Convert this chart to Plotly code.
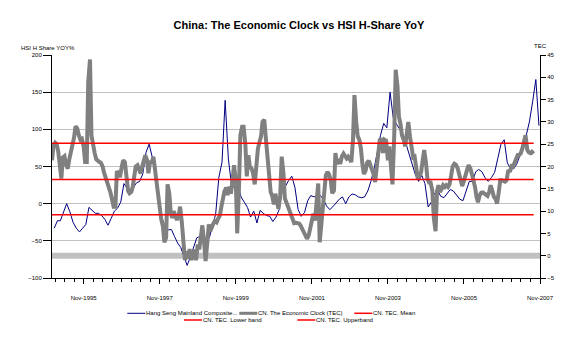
import pandas as pd
import plotly.graph_objects as go

# ---------------- data ----------------
# HSI H-Share (Hang Seng Mainland Composite) YoY %, monthly from Jan-1995
hsi_start = "1995-01-01"
hsi_yoy = [
    -33, -23, -23, -12, 0, -11, -25, -33, -38, -33,
    -28, -5, -9, -13, -13, -16, -21, -29, -20, -10,
    -6, 2, 27, 21, 19, 22, 28, 30, 40, 69,
    80, 62, 35, 0, -19, -31, -35, -35, -44, -53,
    -59, -72, -83, -72, -58, -46, -44, -51, -52, -45,
    -30, -14, 35, 56, 139, 60, 24, 21, 26, 9,
    2, -5, -18, -10, -26, -9, -13, -16, -17, -24,
    -18, -8, 20, 24, 31, 37, 22, -8, -17, -12,
    4, 11, 9, 12, 11, 5, -3, -8, -4, 1.5,
    6, 9, 0, 9, 13, 12, 9, 8, 9, 17,
    30, 47, 69, 92, 108, 102, 150, 116, 107, 100,
    94, 81, 66, 53, 39, 30, 38, 27, -4.5, 2,
    14, 18, 10, 8, 14, 19, 17, 12, 6, 4,
    18, 30, 30, 43, 46, 43, 35, 30, 35, 42,
    61, 80, 86, 55, 47, 47, 53, 65, 76, 92,
    110, 137, 167, 105,
]

# The Economic Clock (TEC), semi-monthly from Jan-1995
tec_start = "1995-01-01"
tec = [
    21.4, 24.5, 25.3, 25, 23.5, 19.5, 17.3, 22, 22.3, 20.5,
    19.5, 21.5, 23.3, 24.2, 26.5, 29, 28.5, 27, 26, 26.2,
    24.5, 21, 21, 39, 44, 27, 24.4, 23, 21.6, 21.2,
    21, 20.8, 20, 18.6, 17.5, 16.6, 15.5, 14.2, 12.5, 11,
    11, 19, 18.3, 17.6, 19.9, 21.4, 21, 17.5, 14.5, 14,
    14.3, 15.5, 17.6, 20, 20.3, 19.1, 18.4, 19.9, 21.2, 22.5,
    21.5, 18.5, 21.3, 20.7, 22.2, 19.5, 17.5, 14.6, 11, 8.2,
    6.6, 3, 4, 16, 13.9, 9.5, 8.5, 10, 8.9, 8,
    8.8, 11, 7.5, 2.5, -1, 1, -0.7, 1.5, -1, 0.5,
    1.3, -1, 2.5, 1.4, 3.8, 6.8, 3, -1.2, 3, 7,
    5.5, 6.6, 7.3, 7.8, 7.5, 8.3, 9, 10.9, 13, 14.4,
    15.3, 13.6, 15.5, 13.9, 17, 20.3, 17, 5, 14.6, 27,
    28.9, 28.9, 25, 17.8, 22.5, 20, 19.5, 18.5, 16, 20.6,
    24, 25.4, 26.8, 30, 30.5, 26.6, 22.5, 17, 14.3, 13.5,
    11.5, 13.9, 11.6, 10.5, 13.5, 22.2, 18.5, 12.8, 12, 11,
    10.2, 9.2, 8, 7.3, 7.4, 7.3, 7.2, 6.8, 6.1, 5.4,
    4.6, 3.8, 4.5, 6, 7.8, 9.4, 7.9, 10.9, 16.2, 3,
    7.2, 10.5, 15.5, 18, 18.8, 18.2, 17, 14, 14.6, 23,
    20.5, 21.7, 20.6, 22.2, 22.9, 22.2, 21.8, 22.2, 21.4, 21,
    26, 36, 30, 26.8, 25.9, 24, 20.6, 18.3, 19.1, 20.8,
    21.3, 20.4, 19.3, 18.4, 16.5, 19.5, 24.3, 25.9, 26, 23,
    26, 25.8, 21.4, 24.5, 19.9, 16, 27, 41.7, 38, 31.2,
    29.5, 27, 26, 24.5, 27.4, 30, 26.6, 24.5, 22, 22.2,
    19.9, 17.2, 18, 18.7, 21.5, 23.7, 20.8, 17.2, 16.4, 16.4,
    14.6, 8.5, 5.5, 14.5, 15.8, 14.3, 15, 15.8, 15.4, 15.8,
    15.4, 16, 18, 20, 20.6, 20.4, 19.6, 18, 16.3, 15.6,
    16.8, 18.5, 19.3, 20.3, 19.6, 18.4, 17, 15.4, 13.2, 12,
    13.6, 14.1, 14.2, 13.9, 13.5, 13.4, 14.3, 15.8, 14.5, 13.2,
    12.7, 11.7, 14.3, 16.9, 16.9, 16.7, 16.6, 16.9, 19.2, 18.8,
    20.1, 20, 20.8, 21.8, 22.6, 22.6, 23, 24, 25.9, 27,
    23.8, 23.2, 23, 23.3, 22.9,
]

tec_mean = 17.1
tec_lower = 9.2
tec_upper = 25.2

series_names = [
    "Hang Seng Mainland Composite...",
    "CN. The Economic Clock (TEC)",
    "CN. TEC. Mean",
    "CN. TEC. Lower band",
    "CN. TEC. Upperband",
]

x_range = ["1995-01-01", "2007-11-01"]
hsi_axis_range = [-100, 200]
tec_axis_range = [-5, 45]

# ---------------- build ----------------
W, H = 575, 342
ML, MR, MT, MB = 52, 35, 55, 64
PW, PH = W - ML - MR, H - MT - MB


def px_x(px):
    return (px - ML) / PW


def px_y(py):
    return (H - MB - py) / PH


hsi_dates = pd.date_range(hsi_start, periods=len(hsi_yoy), freq="MS") + pd.Timedelta(days=21)
tec_dates = pd.date_range(tec_start, periods=len(tec), freq="SMS")
band_x = [tec_dates[0], tec_dates[-1]]

FONT = "Liberation Sans, Arial, sans-serif"
colors = ["#000080", "#808080", "#ff0000", "#ff0000", "#ff0000"]
widths = [1, 4, 1.5, 1.5, 1.5]

fig = go.Figure()
fig.add_trace(go.Scatter(x=hsi_dates, y=hsi_yoy, mode="lines", name=series_names[0],
                         line=dict(color=colors[0], width=widths[0]), yaxis="y"))
fig.add_trace(go.Scatter(x=tec_dates, y=tec, mode="lines", name=series_names[1],
                         line=dict(color=colors[1], width=widths[1]), yaxis="y2"))
fig.add_trace(go.Scatter(x=band_x, y=[tec_mean, tec_mean], mode="lines", name=series_names[2],
                         line=dict(color=colors[2], width=widths[2]), yaxis="y2"))
fig.add_trace(go.Scatter(x=band_x, y=[tec_lower, tec_lower], mode="lines", name=series_names[3],
                         line=dict(color=colors[3], width=widths[3]), yaxis="y2"))
fig.add_trace(go.Scatter(x=band_x, y=[tec_upper, tec_upper], mode="lines", name=series_names[4],
                         line=dict(color=colors[4], width=widths[4]), yaxis="y2"))

# thick zero band on TEC axis
fig.add_shape(type="line", xref="x domain", x0=0, x1=1, yref="y2", y0=0, y1=0,
              line=dict(color="#c0c0c0", width=6), layer="below")

fig.update_layout(
    width=W, height=H,
    margin=dict(l=ML, r=MR, t=MT, b=MB),
    paper_bgcolor="white", plot_bgcolor="white",
    font=dict(family=FONT, size=6, color="black"),
    showlegend=False,
    title=dict(text="<b>China: The Economic Clock vs HSI H-Share YoY</b>",
               font=dict(family=FONT, size=11, color="black"),
               x=px_x(299), xref="paper", xanchor="center",
               y=1 - 25 / H, yref="container", yanchor="middle"),
    xaxis=dict(type="date", range=x_range, tickformat="%b-%Y",
               tick0="1995-11-01", dtick="M24",
               ticks="outside", ticklen=5, tickcolor="black",
               ticklabelstandoff=9,
               showline=True, linecolor="black", linewidth=1,
               showgrid=False, zeroline=False,
               minor=dict(ticks="outside", ticklen=3, tickcolor="black",
                          dtick="M3", tick0="1995-11-01", showgrid=False),
               tickfont=dict(size=6)),
    yaxis=dict(range=hsi_axis_range, dtick=50, ticks="outside", ticklen=8,
               tickcolor="black", showline=True, linecolor="black", linewidth=1,
               showgrid=True, gridcolor="#c0c0c0", gridwidth=1, zeroline=False,
               tickfont=dict(size=6)),
    yaxis2=dict(range=tec_axis_range, dtick=5, overlaying="y", side="right",
                ticks="outside", ticklen=5, tickcolor="black",
                showline=True, linecolor="black", linewidth=1,
                showgrid=False, zeroline=False, tickfont=dict(size=6)),
)

# axis titles
fig.add_annotation(text="HSI H Share YOY%", xref="paper", x=px_x(48), xanchor="center",
                   yref="paper", y=px_y(47.5), yanchor="middle",
                   showarrow=False, font=dict(size=6))
fig.add_annotation(text="TEC", xref="paper", x=1, xanchor="center",
                   yref="paper", y=px_y(46), yanchor="middle",
                   showarrow=False, font=dict(size=6))

# legend (two centred rows, short keys as in the original)
legend_rows = [
    (313.3, [(0, 127.3), (1, 239.3), (2, 354.3)]),
    (320.0, [(3, 184.0), (4, 297.3)]),
]
for ly, items in legend_rows:
    for idx, kx in items:
        fig.add_shape(type="line", xref="paper", yref="paper",
                      x0=px_x(kx), x1=px_x(kx + 18), y0=px_y(ly), y1=px_y(ly),
                      line=dict(color=colors[idx], width=min(widths[idx], 3)))
        fig.add_annotation(text=series_names[idx], xref="paper", yref="paper",
                           x=px_x(kx + 18), y=px_y(ly), xanchor="left", yanchor="middle",
                           showarrow=False, borderpad=0, font=dict(size=6))

fig.write_html("out.html")
